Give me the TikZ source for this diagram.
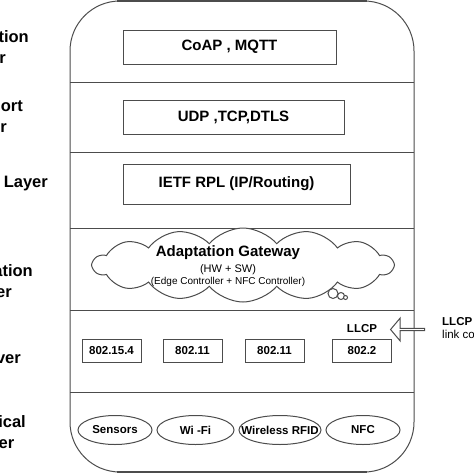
\documentclass[tikz,border=0pt]{standalone}
\usepackage{fontspec}
\setmainfont{Liberation Sans}
\usetikzlibrary{shapes.geometric,shapes.symbols,shapes.arrows}
\begin{document}
\begin{tikzpicture}[x=1pt,y=-1pt,
  edge/.style={draw=black!70, line width=1pt},
  layerbox/.style={edge, inner sep=0, font=\fontsize{15}{18}\selectfont\bfseries},
  macbox/.style={edge, inner sep=0, minimum width=59pt, minimum height=23pt, font=\fontsize{11.5}{14}\selectfont\bfseries},
  phy/.style={edge, ellipse, inner xsep=-10pt, inner ysep=0, minimum height=29pt, font=\fontsize{11.5}{14}\selectfont\bfseries},
  sidelabel/.style={align=center, inner sep=0, font=\fontsize{16.5}{21}\selectfont\bfseries},
  bubble/.style={edge, circle, fill=white, inner sep=0}]
\useasboundingbox (0,0) rectangle (474,474);
\clip (0,0) rectangle (474,474);
% protocol stack outline
\draw[edge, rounded corners=50pt] (70,1) rectangle (414,472);
\draw[edge, line width=2.5pt] (117,1) -- (367,1);
\draw[edge, line width=2.5pt] (117,472) -- (367,472);
\foreach \y in {82,152,228,310,392} \draw[edge] (70,\y) -- (414,\y);
% upper layers
\node[layerbox, minimum width=213pt, minimum height=34pt] (app) at (229.5,47) {CoAP , MQTT};
\node[layerbox, minimum width=221pt, minimum height=34pt] (trans) at (233.5,117) {UDP ,TCP,DTLS};
\node[layerbox, minimum width=227pt, minimum height=40pt] (net) at (236.5,184) {IETF RPL (IP/Routing)};
% gateway cloud
\node[cloud, edge, fill=white, cloud puffs=14, cloud puff arc=100, aspect=4.5, minimum width=300pt, minimum height=74pt] (gw) at (243,265) {};
\node[font=\fontsize{15}{18}\selectfont\bfseries, inner sep=0] (gwtitle) at (228,253) {Adaptation Gateway};
\node[font=\fontsize{11}{13}\selectfont, inner sep=0] (gwhw) at (228,270) {(HW + SW)};
\node[font=\fontsize{10}{12}\selectfont, inner sep=0] (gwctl) at (228,282) {(Edge Controller + NFC Controller)};
\node[bubble, minimum size=10pt] (bub1) at (333,293.5) {};
\node[bubble, minimum size=7pt] (bub2) at (341,296) {};
\node[bubble, minimum size=4pt] (bub3) at (345.5,297.5) {};
% link layer
\foreach \x/\t [count=\i] in {111.5/802.15.4, 192.5/802.11, 274.5/802.11, 362/802.2}
  \node[macbox] (mac\i) at (\x,350.5) {\t};
\node[font=\fontsize{11.5}{14}\selectfont\bfseries, inner sep=0] (llcp) at (362,329) {LLCP};
\node[single arrow, edge, fill=white, shape border rotate=180, minimum height=34pt, minimum width=23pt, single arrow head extend=5pt, single arrow tip angle=100, inner sep=0] (llcparrow) at (408,329.5) {};
\node[anchor=west, inner sep=0, font=\fontsize{11.5}{14}\selectfont\bfseries] (llcpname) at (442,322) {LLCP};
\node[anchor=west, inner sep=0, font=\fontsize{11.5}{14}\selectfont] (llcpdesc) at (442,336) {link control protocol};
% physical layer
\foreach \x/\w/\t [count=\i] in {115/74/Sensors, 195.5/77/Wi -Fi, 280/82/Wireless RFID, 363/74/NFC}
  \node[phy, minimum width=\w pt] (phy\i) at (\x,430) {\t};
% layer names
\node[sidelabel, anchor=east] (lapp) at (29,49) {Application\\Layer};
\node[sidelabel, anchor=east] (ltrans) at (23,118) {Transport\\Layer};
\node[sidelabel, anchor=east] (lnet) at (48,183) {Network Layer};
\node[sidelabel, anchor=east] (ladapt) at (33,282.5) {Adaptation\\Layer};
\node[sidelabel, anchor=east] (lmac) at (21,358) {MAC Driver};
\node[sidelabel, anchor=east] (lphy) at (26,434) {Physical\\Layer};
\end{tikzpicture}
\end{document}
